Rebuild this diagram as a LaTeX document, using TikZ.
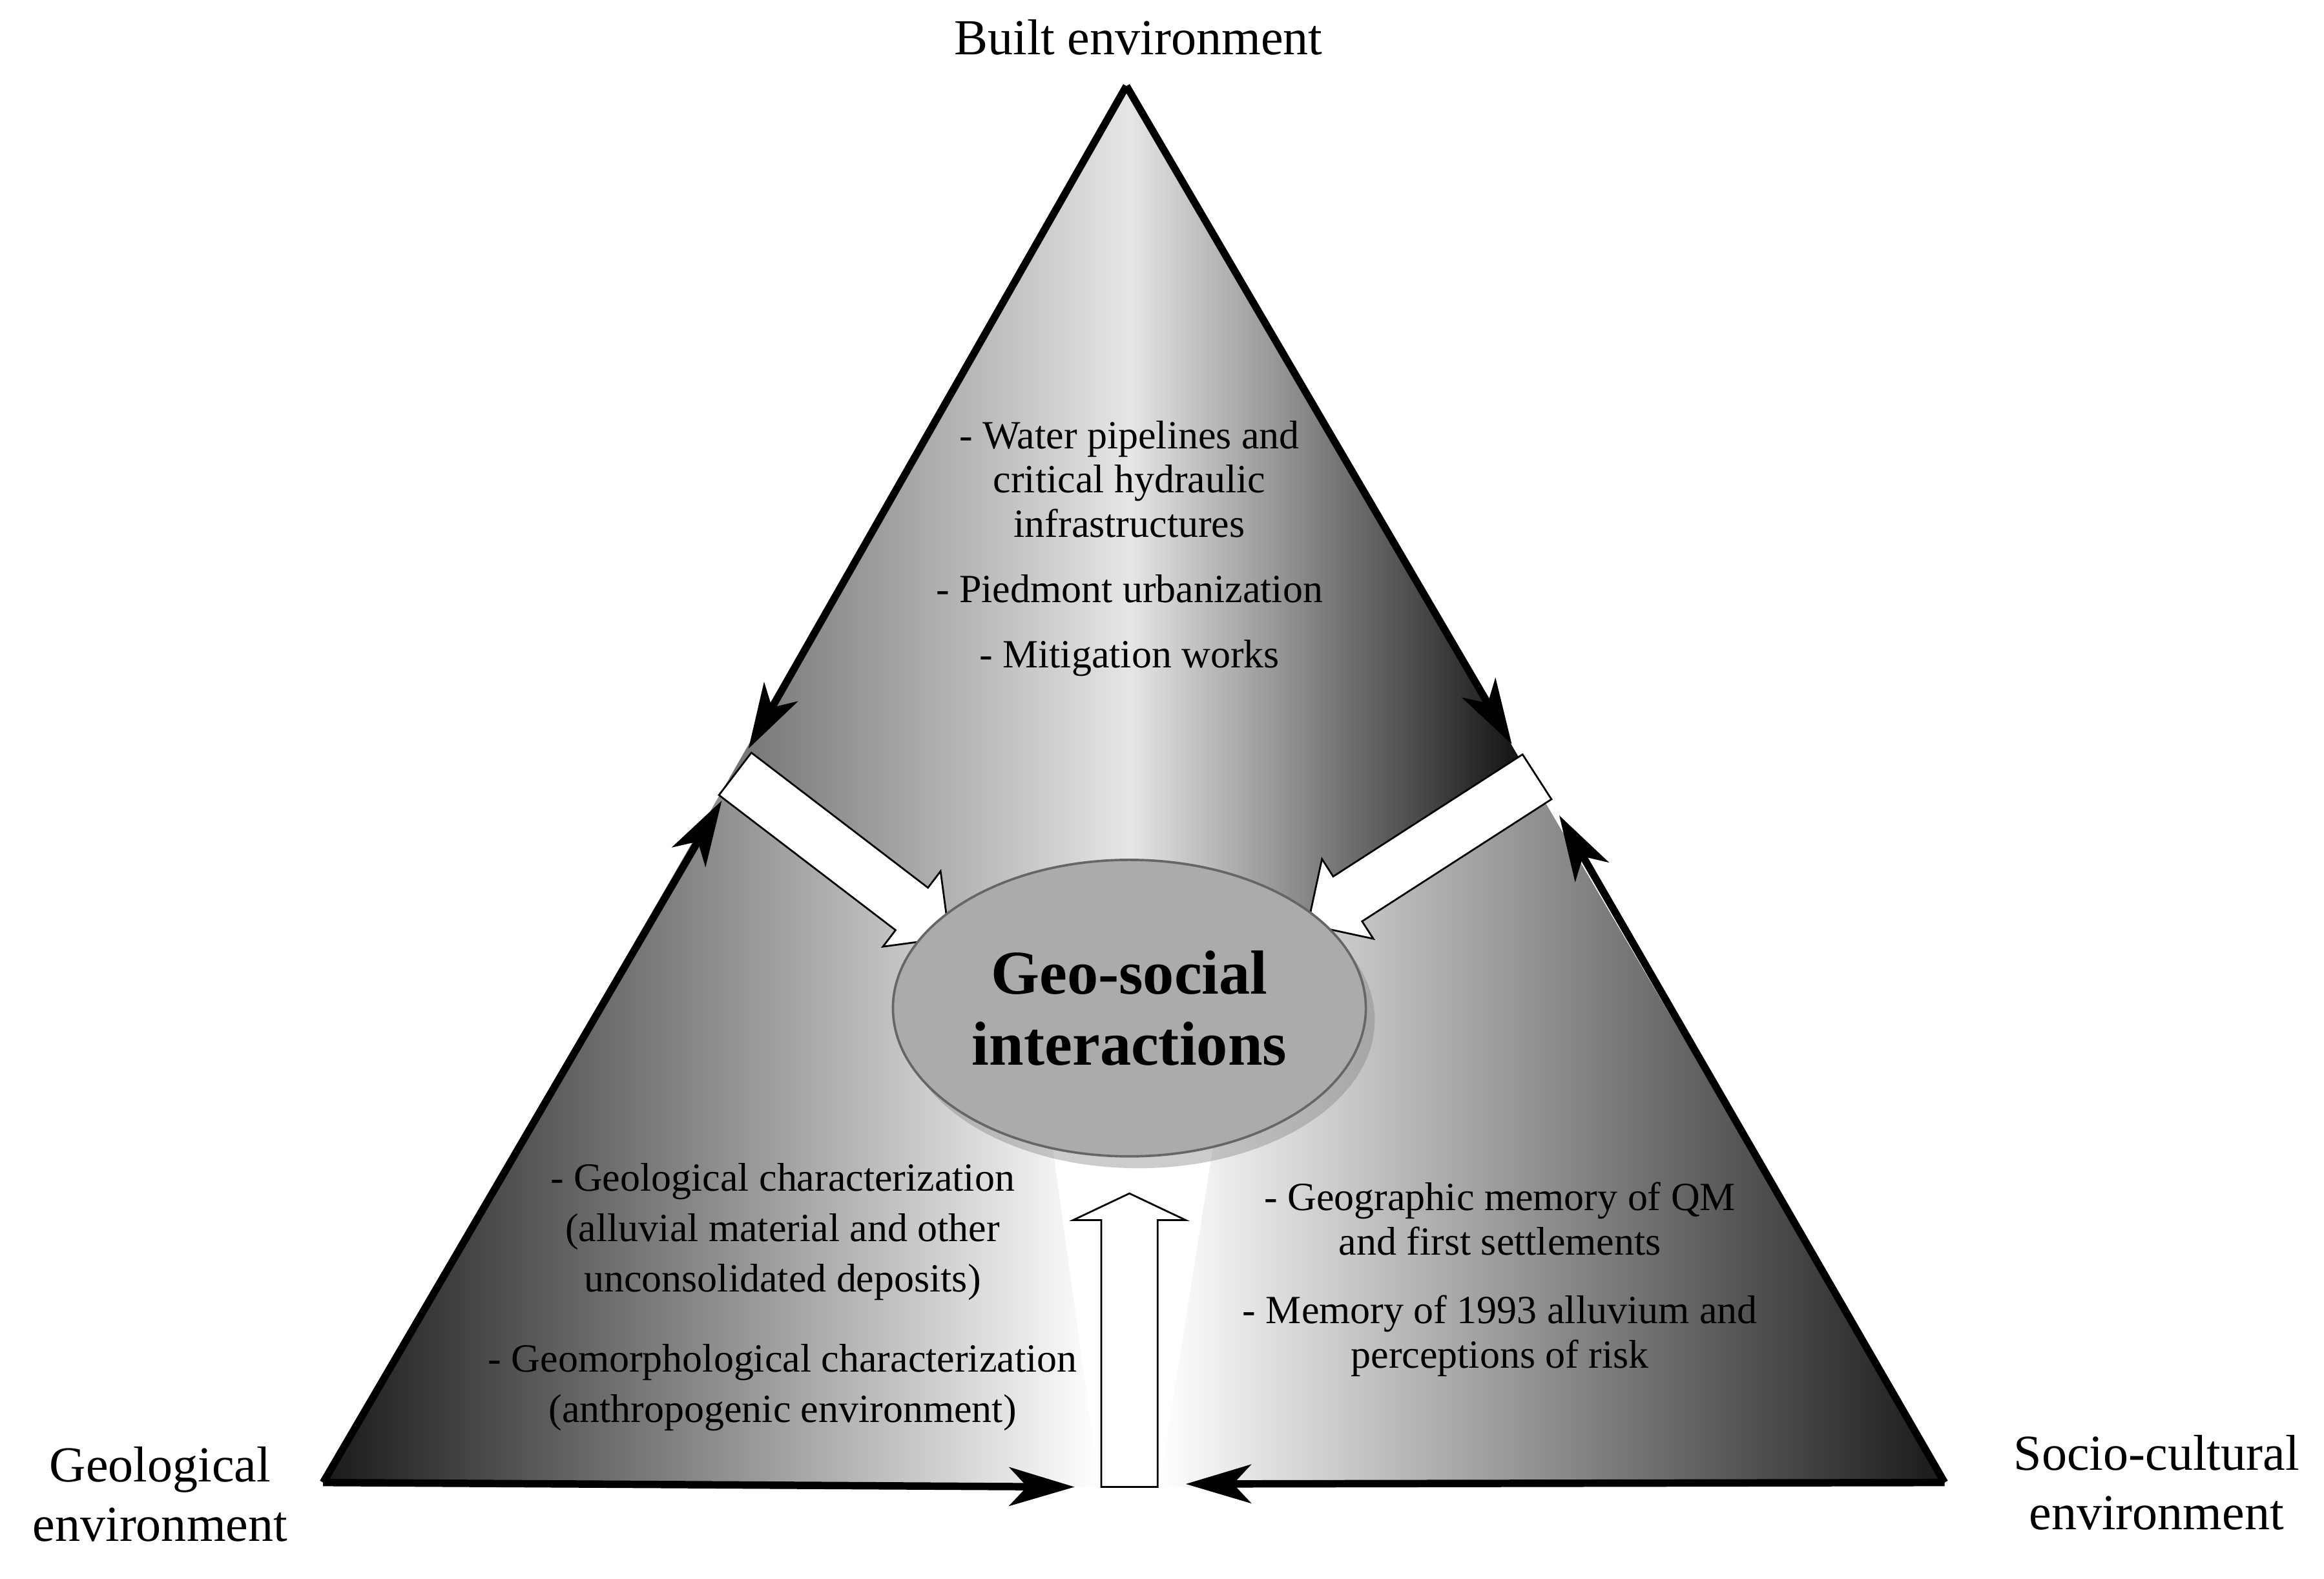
\documentclass[tikz,border=0pt]{standalone}
\usepackage{fontspec}
\setmainfont{Liberation Serif}
\usetikzlibrary{arrows.meta,shadows,shapes.geometric}
\begin{document}
\begin{tikzpicture}[x=0.5pt,y=-0.5pt,
  txt/.style={font=\fontsize{13.5}{15}\selectfont,align=center,inner sep=0pt},
  corner/.style={font=\fontsize{17}{20}\selectfont,align=center,inner sep=0pt},
  edgearrow/.style={line width=2.5pt,-{Stealth[length=22pt,width=13pt,inset=6pt]}},
  whitearrow/.style={draw=black,fill=white,line width=0.6pt}]
\useasboundingbox (0,0) rectangle (1568,1065);
% regions
\coordinate (T) at (760,58);
\coordinate (L) at (218,1000);
\coordinate (R) at (1312,1000);
\coordinate (LA) at (492,525);
\coordinate (RA) at (1033,525);
\coordinate (C) at (762,680);
\coordinate (BA) at (762,1003);
\shade[left color=black!55,right color=black!95,middle color=black!10] (LA)--(T)--(RA)--(880,625)--(762,600)--(640,632)--cycle;
\shade[left color=black!90,right color=white] (L)--(LA)--(640,632)--(700,700)--(742,1003)--cycle;
\shade[left color=white,right color=black!90] (R)--(RA)--(880,625)--(830,700)--(782,1003)--cycle;
\fill[white] (700,700)--(742,1003)--(782,1003)--(830,700)--cycle;
% edge arrows
\draw[edgearrow] (T) -- (505,505);
\draw[edgearrow] (L) -- (487,540);
\draw[edgearrow] (T) -- (1020,502);
\draw[edgearrow] (R) -- (1052,550);
\draw[edgearrow] (L) -- (725,1003);
\draw[edgearrow] (R) -- (800,1001);
% white arrows
\begin{scope}[shift={(496,522)},rotate=-37.4]
\draw[whitearrow] (0,-18)--(150,-18)--(150,-32)--(182,0)--(150,32)--(150,18)--(0,18)--cycle;
\end{scope}
\begin{scope}[shift={(1037,524)},rotate=-147.2]
\draw[whitearrow] (0,-18)--(152,-18)--(152,-32)--(184,0)--(152,32)--(152,18)--(0,18)--cycle;
\end{scope}
\begin{scope}[shift={(762,1003)},rotate=90]
\draw[whitearrow] (0,-19)--(180,-19)--(180,-38)--(198,0)--(180,38)--(180,19)--(0,19)--cycle;
\end{scope}
% circle
\node[ellipse,minimum width=132pt,minimum height=100pt,draw=black!60,line width=0.8pt,
  fill=black!33,drop shadow={shadow xshift=3pt,shadow yshift=-4pt,opacity=0.4},
  font=\fontsize{21}{24}\selectfont\bfseries,align=center] (circ) at (C) {Geo-social\\interactions};
% texts
\node[corner] (built) at (768,25) {Built environment};
\node[corner] (geo) at (108,1008) {Geological\\environment};
\node[corner] (soc) at (1455,1000) {Socio-cultural\\environment};
\node[txt] (top) at (762,370) {- Water pipelines and\\critical hydraulic\\infrastructures\\[7pt]- Piedmont urbanization\\[7pt]- Mitigation works};
\node[txt] (left) at (528,875) {- Geological characterization\\[2pt](alluvial material and other\\[2pt]unconsolidated deposits)\\[12pt]- Geomorphological characterization\\[2pt](anthropogenic environment)};
\node[txt] (right) at (1012,863) {- Geographic memory of QM\\and first settlements\\[8pt]- Memory of 1993 alluvium and\\perceptions of risk};
\end{tikzpicture}
\end{document}
